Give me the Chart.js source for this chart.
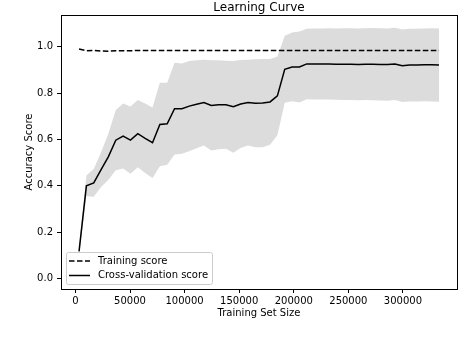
<!DOCTYPE html>
<html>
<head>
<meta charset="utf-8">
<script src="https://cdn.jsdelivr.net/npm/chart.js@4/dist/chart.umd.min.js"></script>
<style>
  body { margin: 0; background: #fff; }
  #wrap { width: 474px; height: 345px; }
</style>
</head>
<body>
<div id="wrap"><canvas id="lc" width="474" height="345"></canvas></div>
<script>
// Datos
var trainSizes = [3330, 10058, 16786, 23514, 30242, 36970, 43698, 50426, 57154, 63882,
  70610, 77338, 84066, 90794, 97522, 104250, 110978, 117706, 124434, 131162,
  137890, 144618, 151346, 158074, 164802, 171530, 178258, 184986, 191714, 198442,
  205170, 211898, 218626, 225354, 232082, 238810, 245538, 252266, 258994, 265722,
  272450, 279178, 285906, 292634, 299362, 306090, 312818, 319546, 326274, 333002];

var trainScore = [0.990, 0.983, 0.984, 0.982, 0.981, 0.983, 0.983, 0.983, 0.984, 0.984,
  0.984, 0.984, 0.984, 0.984, 0.984, 0.984, 0.984, 0.984, 0.984, 0.984,
  0.984, 0.984, 0.984, 0.984, 0.984, 0.984, 0.984, 0.984, 0.984, 0.984,
  0.984, 0.984, 0.984, 0.984, 0.984, 0.984, 0.984, 0.984, 0.984, 0.984,
  0.984, 0.984, 0.984, 0.984, 0.984, 0.984, 0.984, 0.984, 0.984, 0.984];

var cvScore = [0.117, 0.400, 0.413, 0.470, 0.526, 0.597, 0.615, 0.597, 0.625, 0.605,
  0.586, 0.665, 0.668, 0.733, 0.733, 0.744, 0.752, 0.759, 0.747, 0.750,
  0.750, 0.741, 0.753, 0.759, 0.756, 0.757, 0.762, 0.788, 0.903, 0.913,
  0.913, 0.926, 0.926, 0.926, 0.926, 0.925, 0.925, 0.925, 0.924, 0.925,
  0.925, 0.924, 0.923, 0.926, 0.918, 0.921, 0.921, 0.922, 0.922, 0.921];

var cvStd = [0.015, 0.045, 0.060, 0.075, 0.100, 0.130, 0.140, 0.145, 0.145, 0.150,
  0.152, 0.180, 0.177, 0.198, 0.195, 0.195, 0.190, 0.185, 0.195, 0.192,
  0.190, 0.198, 0.190, 0.185, 0.190, 0.190, 0.185, 0.170, 0.145, 0.148,
  0.153, 0.152, 0.153, 0.153, 0.154, 0.154, 0.155, 0.155, 0.155, 0.155,
  0.156, 0.156, 0.156, 0.156, 0.156, 0.157, 0.157, 0.157, 0.158, 0.158];

var xTicks = [0, 50000, 100000, 150000, 200000, 250000, 300000];
var yTicks = [0.0, 0.2, 0.4, 0.6, 0.8, 1.0];

function pts(ys) {
  return trainSizes.map(function (x, i) { return { x: x, y: ys[i] }; });
}
var cvUpper = cvScore.map(function (v, i) { return v + cvStd[i]; });
var cvLower = cvScore.map(function (v, i) { return v - cvStd[i]; });

var FONT = "'DejaVu Sans', sans-serif";

// Marco, titulos y leyenda dibujados a mano
var extras = {
  id: 'extras',
  afterDraw: function (chart) {
    var ctx = chart.ctx, a = chart.chartArea;
    ctx.save();
    ctx.strokeStyle = '#000';
    ctx.lineWidth = 1;
    ctx.strokeRect(Math.round(a.left) + 0.5, Math.round(a.top) + 0.5,
      Math.round(a.right - a.left), Math.round(a.bottom - a.top));

    ctx.fillStyle = '#000';
    ctx.textAlign = 'center';
    ctx.textBaseline = 'alphabetic';
    ctx.font = '12px ' + FONT;
    ctx.fillText('Learning Curve', (a.left + a.right) / 2, 11);

    ctx.font = '10px ' + FONT;
    ctx.fillText('Training Set Size', (a.left + a.right) / 2, 316);

    ctx.save();
    ctx.translate(29, (a.top + a.bottom) / 2);
    ctx.rotate(-Math.PI / 2);
    ctx.textBaseline = 'middle';
    ctx.fillText('Accuracy Score', 0, 0);
    ctx.restore();

    // leyenda
    var lx = 66, ly = 252, lw = 146, lh = 32;
    ctx.fillStyle = 'rgba(255,255,255,0.85)';
    ctx.strokeStyle = '#cccccc';
    ctx.beginPath();
    ctx.roundRect(lx + 0.5, ly + 0.5, lw, lh, 2);
    ctx.fill();
    ctx.stroke();

    var items = [chart.data.datasets[0], chart.data.datasets[1]];
    items.forEach(function (ds, i) {
      var y = ly + 9 + i * 14.5;
      ctx.strokeStyle = '#000';
      ctx.lineWidth = 1.5;
      ctx.setLineDash(ds.borderDash || []);
      ctx.beginPath();
      ctx.moveTo(lx + 3, y);
      ctx.lineTo(lx + 24, y);
      ctx.stroke();
      ctx.setLineDash([]);
      ctx.fillStyle = '#000';
      ctx.textAlign = 'left';
      ctx.textBaseline = 'middle';
      ctx.font = '10px ' + FONT;
      ctx.fillText(ds.label, lx + 32, y);
    });
    ctx.restore();
  }
};

var ctx = document.getElementById('lc').getContext('2d');
var chart = new Chart(ctx, {
  type: 'line',
  data: {
    datasets: [{
      label: 'Training score',
      data: pts(trainScore),
      borderColor: '#000',
      borderWidth: 1.5,
      borderDash: [5.5, 2.5],
      pointRadius: 0,
      fill: false,
      order: 0
    }, {
      label: 'Cross-validation score',
      data: pts(cvScore),
      borderColor: '#000',
      borderWidth: 1.5,
      pointRadius: 0,
      fill: false,
      order: 0
    }, {
      label: 'cv upper',
      data: pts(cvUpper),
      borderWidth: 0,
      borderColor: 'rgba(0,0,0,0)',
      backgroundColor: '#dcdcdc',
      pointRadius: 0,
      fill: '+1',
      order: 1
    }, {
      label: 'cv lower',
      data: pts(cvLower),
      borderWidth: 0,
      borderColor: 'rgba(0,0,0,0)',
      pointRadius: 0,
      fill: false,
      order: 1
    }]
  },
  options: {
    responsive: false,
    animation: false,
    layout: { padding: { left: 0, right: 17, top: 15, bottom: 0 } },
    plugins: {
      legend: { display: false },
      tooltip: { enabled: false },
      filler: { propagate: false }
    },
    scales: {
      x: {
        type: 'linear',
        min: -13200,
        max: 349500,
        afterFit: function (s) { s.height = 56; },
        afterBuildTicks: function (s) { s.ticks = xTicks.map(function (v) { return { value: v }; }); },
        grid: { drawOnChartArea: false, drawTicks: true, tickLength: 4, color: '#000', lineWidth: 1 },
        border: { display: false },
        ticks: {
          color: '#000', padding: 2, maxRotation: 0,
          font: { family: FONT, size: 10 },
          callback: function (v) { return String(v); }
        }
      },
      y: {
        type: 'linear',
        min: -0.045,
        max: 1.137,
        afterFit: function (s) { s.width = 61; },
        afterBuildTicks: function (s) { s.ticks = yTicks.map(function (v) { return { value: v }; }); },
        grid: { drawOnChartArea: false, drawTicks: true, tickLength: 4, color: '#000', lineWidth: 1 },
        border: { display: false },
        ticks: {
          color: '#000', padding: 4,
          font: { family: FONT, size: 10 },
          callback: function (v) { return v.toFixed(1); }
        }
      }
    }
  },
  plugins: [extras]
});
</script>
</body>
</html>
